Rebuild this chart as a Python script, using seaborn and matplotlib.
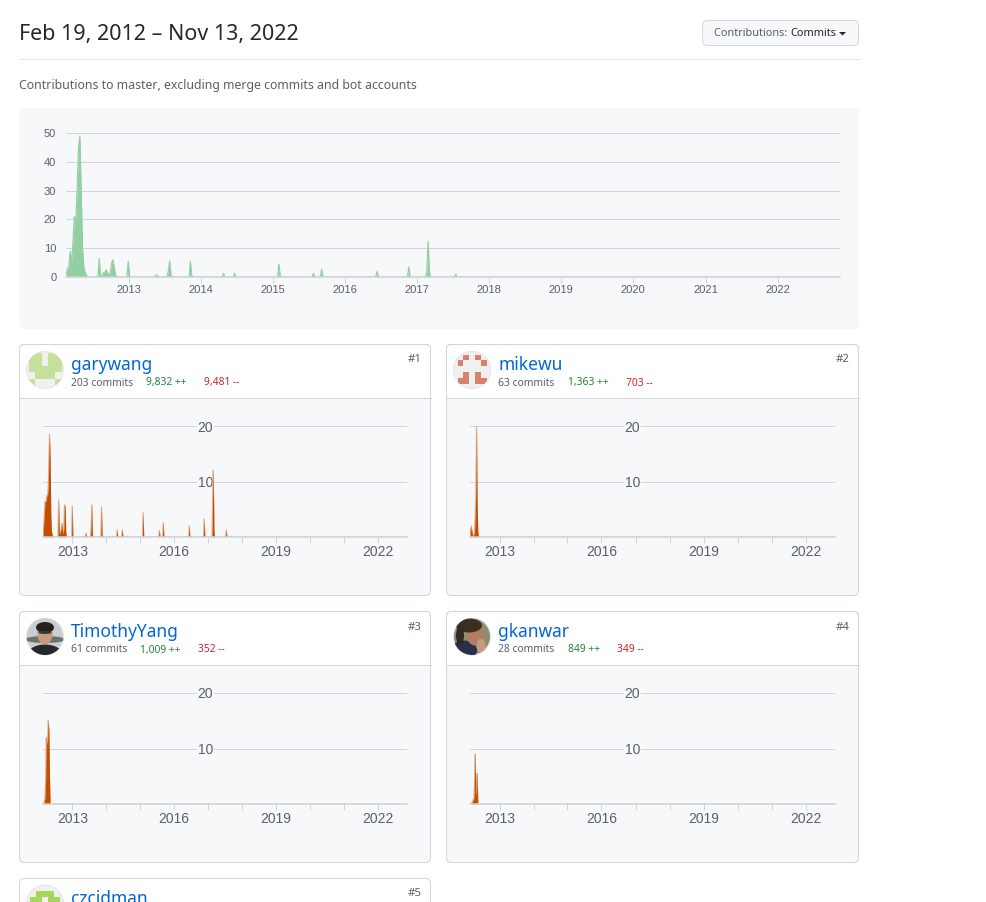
import numpy as np
import pandas as pd
import seaborn as sns
import matplotlib.pyplot as plt
from matplotlib.patches import Circle, Ellipse, FancyBboxPatch, Polygon, Rectangle

# weekly commits, sparse: week number counted from the first Sunday of the range
all_weeks = [0, 1, 2, 3, 4, 5, 6, 7, 8, 9, 10, 11, 12, 13, 14, 15, 23, 24, 25, 26, 27, 28, 29, 30, 31, 32, 33, 34, 35, 36,
             44, 45, 46, 65, 66, 74, 75, 76, 89, 90, 91, 113, 114, 115, 121, 122, 123, 153, 154, 155, 178, 179, 180,
             184, 185, 186, 224, 225, 226, 247, 248, 249, 261, 262, 263, 281, 282, 283]
all_commits = [1, 3, 3.5, 9, 5, 12, 21, 19, 30, 45, 49, 30, 10, 3, 1.5, 0.5, 0, 6.5, 0.5, 0.5, 1.5, 1.5, 2.5, 1.5, 0.7, 1.5, 5, 6, 3, 0.5,
               0, 5.5, 0.5, 0.7, 0.5, 2, 5.7, 0.5, 0, 5.5, 0.5, 0, 1.3, 0, 0, 1.3, 0, 0, 4.5, 0.5, 0, 1.3, 0,
               0, 2.7, 0, 0, 2, 0, 0, 3.5, 0, 1.5, 12.5, 1.5, 0, 1, 0]

gary_weeks = [0, 1, 2, 3, 4, 5, 6, 7, 8, 9, 10, 11, 12, 13, 14, 15, 23, 24, 25, 26, 27, 28, 29, 30, 31, 32, 33, 34, 35, 36,
              44, 45, 46, 65, 66, 67, 74, 75, 76, 89, 90, 91, 113, 114, 115, 121, 122, 123, 153, 154, 155, 178, 179, 180,
              184, 185, 186, 224, 225, 226, 247, 248, 249, 260, 261, 262, 263, 281, 282, 283]
gary_commits = [1, 2, 4, 6.4, 6.4, 6.4, 7.5, 7.5, 9, 14, 18.5, 14, 4, 1, 0.5, 0, 0, 6.7, 1, 0.5, 1, 1.5, 2.5, 1, 0.5, 1.5, 5.8, 5.5, 1, 0,
                0, 5.6, 0, 0, 0.7, 0, 2, 5.8, 0, 0, 5.4, 0, 0, 1.3, 0, 0, 1.3, 0, 0, 4.4, 0, 0, 1.2, 0,
                0, 2.6, 0, 0, 2, 0, 0, 3.3, 0, 0, 7, 12, 1, 0, 1.3, 0]

mike_weeks = [0, 1, 2, 3, 4, 5, 6, 7, 8, 9, 10, 11, 12, 13]
mike_commits = [1.5, 0.8, 2, 1, 0, 0, 0.5, 1, 4, 8, 20, 5, 1, 0]

timothy_weeks = [1, 2, 3, 4, 5, 6, 7, 8, 9, 10, 11]
timothy_commits = [0, 0.5, 1, 4, 12, 11, 11, 15, 13.5, 5, 0]

gkanwar_weeks = [2, 3, 4, 5, 6, 7, 8, 9, 10, 11, 12]
gkanwar_commits = [0, 0.3, 0.5, 0.8, 1, 4.5, 9, 1.5, 2, 5.5, 0]

year_ticks = [2013, 2014, 2015, 2016, 2017, 2018, 2019, 2020, 2021, 2022]
top_y_ticks = [0, 10, 20, 30, 40, 50]
card_y_ticks = [10, 20]

names = ['garywang', 'mikewu', 'TimothyYang', 'gkanwar']
commit_counts = ['203 commits', '63 commits', '61 commits', '28 commits']
added = ['9,832 ++', '1,363 ++', '1,009 ++', '849 ++']
deleted = ['9,481 --', '703 --', '352 --', '349 --']
ranks = ['#1', '#2', '#3', '#4']

W, H = 986, 902
START, END = pd.Timestamp('2012-02-19'), pd.Timestamp('2022-11-13')
week_index = pd.date_range(START, END, freq='7D')
GREY = '#586069'
LINE = '#d1d5da'
BG = '#f6f8fa'
BLUE = '#0366d6'
PX = 0.72  # one screen pixel in points
UI_FONT = ['Noto Sans', 'DejaVu Sans']

sns.set_theme(style='white')
plt.rcParams['font.family'] = UI_FONT


def weekly_frame(weeks, commits):
    values = np.zeros(len(week_index))
    values[weeks] = commits
    return pd.DataFrame({'week': week_index, 'commits': values})


def px_axes(fig, left, top, right, bottom):
    return fig.add_axes([left / W, 1 - bottom / H, (right - left) / W, (bottom - top) / H], zorder=2, facecolor='none')


def area_chart(ax, df, color, edge, ymax, yticks, size, pad_x, pad_y, label_years, tick_len):
    sns.lineplot(data=df, x='week', y='commits', color=edge, linewidth=0.8, ax=ax, zorder=2.2)
    ax.fill_between(df['week'], df['commits'], color=color, linewidth=0, zorder=3)
    ax.set_xlim(START, END)
    ax.set_ylim(0, ymax)
    ax.set_xlabel('')
    ax.set_ylabel('')
    ax.set_yticks(yticks)
    ax.set_xticks([pd.Timestamp(f'{y}-01-01') for y in year_ticks])
    ax.set_xticklabels([str(y) if y in label_years else '' for y in year_ticks])
    ax.grid(axis='y', color=LINE, linewidth=PX)
    ax.set_axisbelow(True)
    for side in ['top', 'left', 'right']:
        ax.spines[side].set_visible(False)
    # baseline goes over the area so the zero weeks do not tint it
    ax.spines['bottom'].set_color(LINE)
    ax.spines['bottom'].set_linewidth(1.1)
    ax.spines['bottom'].set_zorder(5)
    ax.tick_params(axis='x', length=tick_len, width=PX, color=LINE, labelsize=size, labelcolor=GREY, pad=pad_x,
                   bottom=True, labelfontfamily='Liberation Sans')
    ax.tick_params(axis='y', length=0, labelsize=size, labelcolor=GREY, pad=pad_y, labelfontfamily='Liberation Sans')


def identicon(bg, cx, cy, pattern, color, cell, x0, y0):
    clip = Circle((cx, cy), 18.5, facecolor='#f0f0f0', edgecolor='#e4e6e8', linewidth=PX, zorder=4)
    bg.add_patch(clip)
    for r, row in enumerate(pattern):
        for c, on in enumerate(row):
            if on:
                rect = Rectangle((x0 + c * cell, y0 + r * cell), cell, cell, facecolor=color, linewidth=0, zorder=4.1)
                bg.add_patch(rect)
                rect.set_clip_path(clip)


def photo(bg, cx, cy, parts):
    clip = Circle((cx, cy), 18.5, facecolor=parts[0], edgecolor='#e4e6e8', linewidth=PX, zorder=4)
    bg.add_patch(clip)
    for dx, dy, w, h, col in parts[1:]:
        e = Ellipse((cx + dx, cy + dy), w, h, facecolor=col, linewidth=0, zorder=4.1)
        bg.add_patch(e)
        e.set_clip_path(clip)


def rounded(bg, x0, y0, x1, y1, r=5, fc='white', ec=LINE, lw=PX):
    bg.add_patch(FancyBboxPatch((x0 + r, y0 + r), x1 - x0 - 2 * r, y1 - y0 - 2 * r,
                                boxstyle=f'round,pad={r},rounding_size={r}', facecolor=fc, edgecolor=ec, linewidth=lw))


fig = plt.figure(figsize=(W / 100, H / 100), dpi=100, facecolor='white')

# page furniture is laid out in screen pixels on a full-figure axes
bg = fig.add_axes([0, 0, 1, 1], zorder=0)
bg.set_xlim(0, W)
bg.set_ylim(H, 0)
bg.axis('off')

bg.text(19, 34.5, 'Feb 19, 2012 – Nov 13, 2022', fontsize=15.5, color='#24292e', va='center')
bg.plot([19, 859], [58.5, 58.5], color='#e1e4e8', linewidth=PX)
rounded(bg, 702.5, 20.5, 858.5, 45.5, r=5, fc=BG, ec='#d5d8dc')
bg.text(714, 33, 'Contributions: ', fontsize=7.9, color=GREY, va='center')
bg.text(790, 33, 'Commits', fontsize=7.9, color='#24292e', va='center')
bg.add_patch(Polygon([[839, 32], [846, 32], [842.5, 35.5]], facecolor='#24292e', linewidth=0))
bg.text(19, 85, 'Contributions to master, excluding merge commits and bot accounts', fontsize=8.9, color=GREY, va='center')
rounded(bg, 19, 108, 859, 329, r=6, fc=BG, ec=BG, lw=0)

cards = [(19.5, 430.5, 344.5, 595.5), (446.5, 858.5, 344.5, 595.5), (19.5, 430.5, 611.5, 862.5), (446.5, 858.5, 611.5, 862.5)]
frames = [weekly_frame(gary_weeks, gary_commits), weekly_frame(mike_weeks, mike_commits),
          weekly_frame(timothy_weeks, timothy_commits), weekly_frame(gkanwar_weeks, gkanwar_commits)]
stat_x = [(71, 146, 204), (498, 568, 626), (71, 140, 198), (498, 568, 617)]

for i, (x0, x1, y0, y1) in enumerate(cards):
    rounded(bg, x0, y0, x1, y1, r=5, fc=BG)
    rounded(bg, x0, y0, x1, y0 + 20, r=5, fc='white')
    bg.add_patch(Rectangle((x0 + 0.5, y0 + 8), x1 - x0 - 1, 45, facecolor='white', linewidth=0, zorder=1.6))
    bg.plot([x0, x1], [y0 + 53, y0 + 53], color=LINE, linewidth=PX, zorder=1.7)
    sx = stat_x[i]
    bg.text(sx[0], y0 + 20.5, names[i], fontsize=12.5, color=BLUE, va='center', zorder=3)
    bg.text(sx[0], y0 + 38.5, commit_counts[i], fontsize=7.4, color=GREY, va='center', zorder=3)
    bg.text(sx[1], y0 + 38.5, added[i], fontsize=7.4, color='#22863a', va='center', zorder=3)
    bg.text(sx[2], y0 + 38.5, deleted[i], fontsize=7.4, color='#cb2431', va='center', zorder=3)
    bg.text(x1 - 8.5, y0 + 15.5, ranks[i], fontsize=8.2, color=GREY, va='center', ha='right', zorder=3)

# fifth card runs off the bottom of the screenshot
rounded(bg, 19.5, 878.5, 430.5, 960, r=5, fc='white')
bg.text(71, 899, 'czcidman', fontsize=12.5, color=BLUE, va='center', clip_on=True)
bg.text(422, 893.5, '#5', fontsize=8.2, color=GREY, va='center', ha='right')
identicon(bg, 45, 903.5, [[0, 1, 1, 1, 0], [1, 1, 0, 1, 1]], '#a5d65a', 6, 30, 891)

identicon(bg, 45, 370, [[1, 1, 0, 1, 1], [1, 1, 0, 1, 1], [1, 1, 1, 1, 1], [0, 1, 1, 1, 0], [1, 0, 0, 0, 1]],
          '#c6df9b', 6.6, 28.5, 352.5)
identicon(bg, 472, 370, [[0, 1, 0, 1, 0], [1, 0, 0, 0, 1], [0, 0, 0, 0, 0], [0, 1, 0, 1, 0], [1, 1, 0, 1, 1]],
          '#d6836d', 5.9, 457.5, 354.5)
photo(bg, 45, 636.5, ['#c9ced2', (0, 3, 40, 7, '#6d7268'), (0, 19, 36, 22, '#25272b'),
                      (0, -2, 15, 20, '#c49a80'), (0, -9, 18, 11, '#24211f'), (0, -4, 13, 3, '#3a3a3a')])
photo(bg, 472, 636.5, ['#8b8f70', (-8, 14, 26, 20, '#2a2f4c'), (3, -2, 17, 22, '#b27d60'),
                       (-3, -11, 26, 14, '#3c2f22'), (9, 9, 9, 13, '#c79a82'), (-12, -1, 8, 18, '#2f2a22')])

# top overview chart
top_ax = px_axes(fig, 66, 133, 840, 277)
area_chart(top_ax, weekly_frame(all_weeks, all_commits), '#93cfa3', '#93cfa3', 50, top_y_ticks, 8, 1.5, 7, year_ticks, 4)

# per contributor charts, y labels sit inside the plot on top of the grid lines
card_boxes = [(43, 407, 426, 537), (470, 835, 426, 537), (43, 407, 693, 804), (470, 835, 693, 804)]
for (left, right, top, bottom), df in zip(card_boxes, frames):
    ax = px_axes(fig, left, top, right, bottom)
    area_chart(ax, df, '#c24e00', '#e3ab85', 20, card_y_ticks, 10, 1.5, -122.6, [2013, 2016, 2019, 2022], 4.5)
    for lab in ax.get_yticklabels():
        lab.set_bbox(dict(facecolor=BG, edgecolor='none', pad=0.5))

fig.savefig('out.png', dpi=100)
